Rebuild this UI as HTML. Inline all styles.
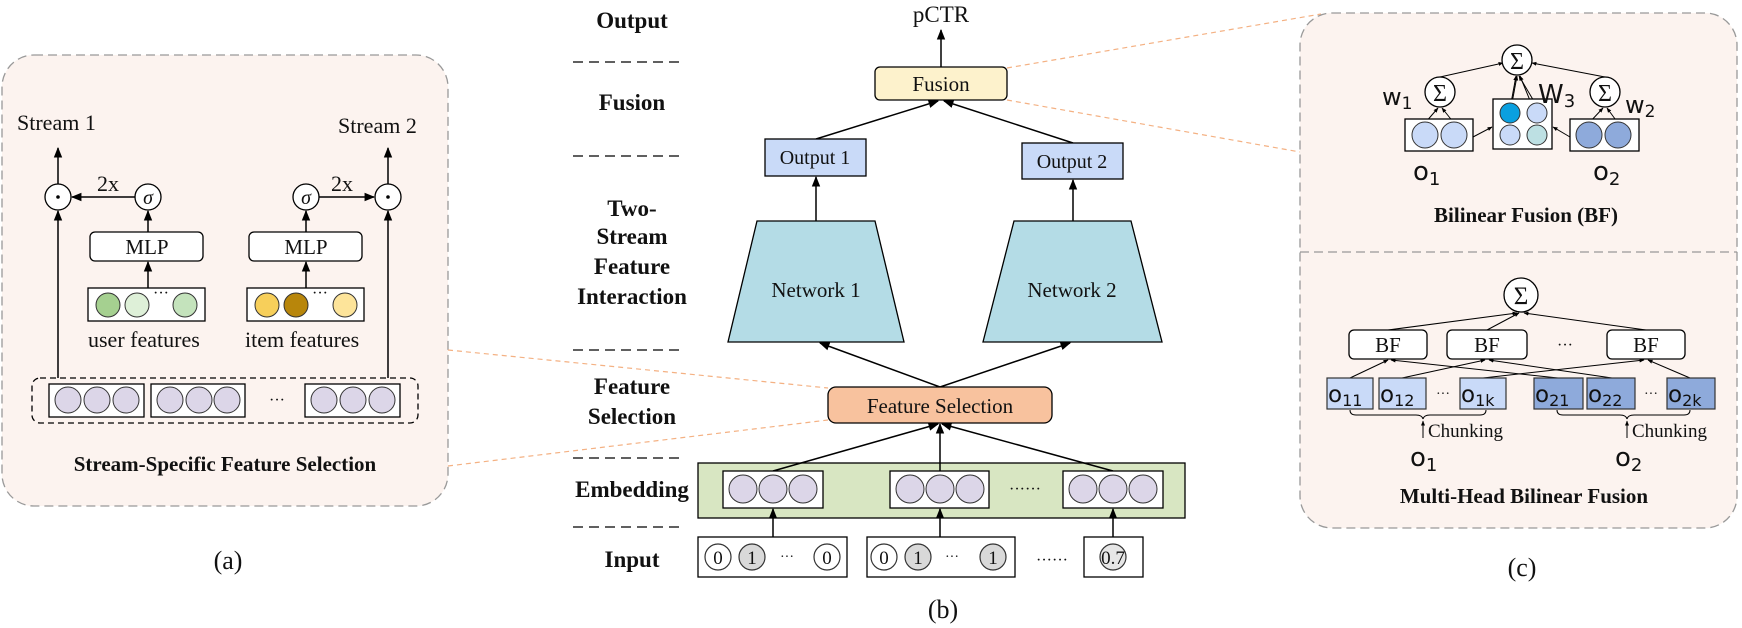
<!DOCTYPE html>
<html><head><meta charset="utf-8"><style>
html,body{margin:0;padding:0;background:#fff;}
svg{display:block;}
.t{font-family:"Liberation Serif",serif;fill:#111;}
.b{font-family:"Liberation Serif",serif;font-weight:bold;fill:#111;}
.s{font-family:"DejaVu Sans","Liberation Sans",sans-serif;fill:#111;}
</style></head><body>
<svg width="1742" height="628" viewBox="0 0 1742 628" xmlns="http://www.w3.org/2000/svg">
<defs>
<marker id="a" viewBox="0 0 10 10" refX="9" refY="5" markerWidth="7" markerHeight="7" orient="auto-start-reverse"><path d="M0,1 L10,5 L0,9 z" fill="#000"/></marker>
<marker id="as" viewBox="0 0 10 10" refX="9" refY="5" markerWidth="5" markerHeight="5" orient="auto"><path d="M0,1 L10,5 L0,9 z" fill="#000"/></marker>
</defs>

<!-- Panel (a) -->
<rect x="2" y="55" width="446" height="451" rx="32" fill="#fcf3ef" stroke="#999" stroke-width="1.3" stroke-dasharray="9,5"/>
<text class="t" x="17" y="130" font-size="22">Stream 1</text>
<text class="t" x="338" y="133" font-size="22">Stream 2</text>
<line x1="58" y1="378" x2="58" y2="211" stroke="#000" stroke-width="1.5" marker-end="url(#a)"/>
<line x1="58" y1="184" x2="58" y2="148" stroke="#000" stroke-width="1.5" marker-end="url(#a)"/>
<circle cx="58" cy="197" r="13" fill="#fff" stroke="#000" stroke-width="1.3"/>
<circle cx="58" cy="197" r="1.8" fill="#000"/>
<line x1="388" y1="378" x2="388" y2="211" stroke="#000" stroke-width="1.5" marker-end="url(#a)"/>
<line x1="388" y1="184" x2="388" y2="148" stroke="#000" stroke-width="1.5" marker-end="url(#a)"/>
<circle cx="388" cy="197" r="13" fill="#fff" stroke="#000" stroke-width="1.3"/>
<circle cx="388" cy="197" r="1.8" fill="#000"/>
<line x1="135" y1="197" x2="72" y2="197" stroke="#000" stroke-width="1.5" marker-end="url(#a)"/>
<line x1="319" y1="197" x2="374" y2="197" stroke="#000" stroke-width="1.5" marker-end="url(#a)"/>
<circle cx="148" cy="197" r="13" fill="#fff" stroke="#000" stroke-width="1.3"/>
<text class="t" x="148" y="204" font-size="20" font-style="italic" text-anchor="middle">σ</text>
<circle cx="306" cy="197" r="13" fill="#fff" stroke="#000" stroke-width="1.3"/>
<text class="t" x="306" y="204" font-size="20" font-style="italic" text-anchor="middle">σ</text>
<text class="t" x="97" y="191" font-size="22">2x</text>
<text class="t" x="331" y="191" font-size="22">2x</text>
<line x1="148" y1="232" x2="148" y2="211" stroke="#000" stroke-width="1.5" marker-end="url(#a)"/>
<line x1="306" y1="232" x2="306" y2="211" stroke="#000" stroke-width="1.5" marker-end="url(#a)"/>
<rect x="90" y="232" width="113" height="29" rx="5" fill="#fff" stroke="#000" stroke-width="1.3"/>
<text class="t" x="147" y="254" font-size="21" text-anchor="middle">MLP</text>
<rect x="249" y="232" width="113" height="29" rx="5" fill="#fff" stroke="#000" stroke-width="1.3"/>
<text class="t" x="306" y="254" font-size="21" text-anchor="middle">MLP</text>
<line x1="148" y1="288" x2="148" y2="262" stroke="#000" stroke-width="1.5" marker-end="url(#a)"/>
<line x1="306" y1="288" x2="306" y2="262" stroke="#000" stroke-width="1.5" marker-end="url(#a)"/>
<rect x="88" y="288" width="117" height="33" fill="#fff" stroke="#000" stroke-width="1.3"/>
<circle cx="108" cy="305" r="12" fill="#a5d090" stroke="#333"/>
<circle cx="137" cy="305" r="12" fill="#def0d8" stroke="#333"/>
<circle cx="185" cy="305" r="12" fill="#c4e3bc" stroke="#333"/>
<text class="t" x="161" y="298" font-size="16" text-anchor="middle">···</text>
<rect x="247" y="288" width="117" height="33" fill="#fff" stroke="#000" stroke-width="1.3"/>
<circle cx="267" cy="305" r="12" fill="#f7cf5a" stroke="#333"/>
<circle cx="296" cy="305" r="12" fill="#b8860b" stroke="#333"/>
<circle cx="345" cy="305" r="12" fill="#fde49a" stroke="#333"/>
<text class="t" x="320" y="298" font-size="16" text-anchor="middle">···</text>
<text class="t" x="88" y="347" font-size="22">user features</text>
<text class="t" x="245" y="347" font-size="22">item features</text>
<rect x="32" y="378" width="386" height="45" rx="8" fill="#fcf3ef" stroke="#000" stroke-width="1.3" stroke-dasharray="6,4"/>
<rect x="49" y="384" width="95" height="33" fill="#fff" stroke="#000" stroke-width="1.3"/>
<rect x="151" y="384" width="94" height="33" fill="#fff" stroke="#000" stroke-width="1.3"/>
<rect x="305" y="384" width="95" height="33" fill="#fff" stroke="#000" stroke-width="1.3"/>
<g fill="#dcd6e8" stroke="#333">
<circle cx="68" cy="400" r="13"/><circle cx="97" cy="400" r="13"/><circle cx="126" cy="400" r="13"/>
<circle cx="170" cy="400" r="13"/><circle cx="199" cy="400" r="13"/><circle cx="227" cy="400" r="13"/>
<circle cx="324" cy="400" r="13"/><circle cx="353" cy="400" r="13"/><circle cx="382" cy="400" r="13"/>
</g>
<text class="t" x="277" y="405" font-size="16" text-anchor="middle">···</text>
<text class="b" x="225" y="471" font-size="21" text-anchor="middle">Stream-Specific Feature Selection</text>
<text class="t" x="228" y="569" font-size="26" text-anchor="middle">(a)</text>

<!-- orange connectors -->
<g stroke="#f4b183" stroke-width="1.2" stroke-dasharray="5,4" fill="none">
<line x1="448" y1="350" x2="828" y2="388"/>
<line x1="448" y1="466" x2="828" y2="420"/>
<line x1="1007" y1="68" x2="1321" y2="14"/>
<line x1="1007" y1="100" x2="1300" y2="152"/>
</g>

<!-- Panel (b) labels -->
<g class="b" font-size="23" text-anchor="middle">
<text class="b" x="632" y="28">Output</text>
<text class="b" x="632" y="110">Fusion</text>
<text class="b" x="632" y="216">Two-</text>
<text class="b" x="632" y="244">Stream</text>
<text class="b" x="632" y="274">Feature</text>
<text class="b" x="632" y="304">Interaction</text>
<text class="b" x="632" y="394">Feature</text>
<text class="b" x="632" y="424">Selection</text>
<text class="b" x="632" y="497">Embedding</text>
<text class="b" x="632" y="567">Input</text>
</g>
<g stroke="#000" stroke-width="1.3" stroke-dasharray="10,6">
<line x1="573" y1="62" x2="684" y2="62"/>
<line x1="573" y1="156" x2="684" y2="156"/>
<line x1="573" y1="350" x2="684" y2="350"/>
<line x1="573" y1="458" x2="684" y2="458"/>
<line x1="573" y1="527" x2="684" y2="527"/>
</g>

<!-- Panel (b) diagram -->
<text class="t" x="941" y="22" font-size="23" text-anchor="middle">pCTR</text>
<line x1="941" y1="67" x2="941" y2="30" stroke="#000" stroke-width="1.5" marker-end="url(#a)"/>
<rect x="875" y="67" width="132" height="33" rx="5" fill="#fdf2cc" stroke="#000" stroke-width="1.3"/>
<text class="t" x="941" y="91" font-size="21" text-anchor="middle">Fusion</text>
<line x1="816" y1="139" x2="938" y2="101" stroke="#000" stroke-width="1.5" marker-end="url(#a)"/>
<line x1="1073" y1="143" x2="944" y2="101" stroke="#000" stroke-width="1.5" marker-end="url(#a)"/>
<rect x="765" y="139" width="101" height="37" fill="#c9daf8" stroke="#000" stroke-width="1.3"/>
<text class="t" x="815" y="164" font-size="20" text-anchor="middle">Output 1</text>
<rect x="1022" y="143" width="101" height="36" fill="#c9daf8" stroke="#000" stroke-width="1.3"/>
<text class="t" x="1072" y="168" font-size="20" text-anchor="middle">Output 2</text>
<line x1="816" y1="221" x2="816" y2="177" stroke="#000" stroke-width="1.5" marker-end="url(#a)"/>
<line x1="1073" y1="221" x2="1073" y2="180" stroke="#000" stroke-width="1.5" marker-end="url(#a)"/>
<polygon points="757,221 875,221 904,342 728,342" fill="#b4dce6" stroke="#000" stroke-width="1.3"/>
<polygon points="1014,221 1131,221 1162,342 983,342" fill="#b4dce6" stroke="#000" stroke-width="1.3"/>
<text class="t" x="816" y="297" font-size="21" text-anchor="middle">Network 1</text>
<text class="t" x="1072" y="297" font-size="21" text-anchor="middle">Network 2</text>
<line x1="940" y1="387" x2="820" y2="343" stroke="#000" stroke-width="1.5" marker-end="url(#a)"/>
<line x1="940" y1="387" x2="1070" y2="343" stroke="#000" stroke-width="1.5" marker-end="url(#a)"/>
<rect x="828" y="387" width="224" height="36" rx="8" fill="#f8c29e" stroke="#000" stroke-width="1.3"/>
<text class="t" x="940" y="413" font-size="21" text-anchor="middle">Feature Selection</text>
<rect x="698" y="463" width="487" height="55" fill="#d8e6c2" stroke="#000" stroke-width="1.3"/>
<line x1="773" y1="471" x2="938" y2="424" stroke="#000" stroke-width="1.5" marker-end="url(#a)"/>
<line x1="940" y1="471" x2="940" y2="424" stroke="#000" stroke-width="1.5" marker-end="url(#a)"/>
<line x1="1113" y1="471" x2="942" y2="424" stroke="#000" stroke-width="1.5" marker-end="url(#a)"/>
<rect x="723" y="471" width="100" height="37" fill="#fff" stroke="#000" stroke-width="1.3"/>
<rect x="890" y="471" width="99" height="37" fill="#fff" stroke="#000" stroke-width="1.3"/>
<rect x="1063" y="471" width="100" height="37" fill="#fff" stroke="#000" stroke-width="1.3"/>
<g fill="#dcd6e8" stroke="#333">
<circle cx="743" cy="489" r="14"/><circle cx="773" cy="489" r="14"/><circle cx="803" cy="489" r="14"/>
<circle cx="910" cy="489" r="14"/><circle cx="940" cy="489" r="14"/><circle cx="970" cy="489" r="14"/>
<circle cx="1083" cy="489" r="14"/><circle cx="1113" cy="489" r="14"/><circle cx="1143" cy="489" r="14"/>
</g>
<text class="t" x="1025" y="494" font-size="16" text-anchor="middle">······</text>
<line x1="773" y1="537" x2="773" y2="509" stroke="#000" stroke-width="1.5" marker-end="url(#a)"/>
<line x1="940" y1="537" x2="940" y2="509" stroke="#000" stroke-width="1.5" marker-end="url(#a)"/>
<line x1="1113" y1="537" x2="1113" y2="509" stroke="#000" stroke-width="1.5" marker-end="url(#a)"/>
<rect x="698" y="537" width="149" height="40" fill="#fff" stroke="#000" stroke-width="1.3"/>
<rect x="867" y="537" width="148" height="40" fill="#fff" stroke="#000" stroke-width="1.3"/>
<rect x="1084" y="537" width="59" height="40" fill="#fff" stroke="#000" stroke-width="1.3"/>
<g stroke="#333" stroke-width="1.2">
<circle cx="718" cy="557" r="13" fill="#fff"/><circle cx="752" cy="557" r="13" fill="#d9d9d9"/><circle cx="827" cy="557" r="13" fill="#fff"/>
<circle cx="884" cy="557" r="13" fill="#fff"/><circle cx="918" cy="557" r="13" fill="#d9d9d9"/><circle cx="993" cy="557" r="13" fill="#d9d9d9"/>
<circle cx="1113" cy="557" r="13" fill="#e6e6e6"/>
</g>
<g class="t" font-size="19" text-anchor="middle">
<text x="718" y="564">0</text><text x="752" y="564">1</text><text x="787" y="561" font-size="14">···</text><text x="827" y="564">0</text>
<text x="884" y="564">0</text><text x="918" y="564">1</text><text x="952" y="561" font-size="14">···</text><text x="993" y="564">1</text>
<text x="1113" y="564">0.7</text>
</g>
<text class="t" x="1052" y="565" font-size="16" text-anchor="middle">······</text>
<text class="t" x="943" y="618" font-size="26" text-anchor="middle">(b)</text>

<!-- Panel (c) -->
<rect x="1300" y="13" width="437" height="515" rx="32" fill="#fcf3ef" stroke="#999" stroke-width="1.3" stroke-dasharray="9,5"/>
<line x1="1300" y1="252" x2="1737" y2="252" stroke="#999" stroke-width="1.3" stroke-dasharray="9,5"/>
<!-- BF -->
<g stroke="#000" stroke-width="1" fill="none">
<line x1="1440" y1="77" x2="1503" y2="63" marker-end="url(#as)"/>
<line x1="1605" y1="77" x2="1532" y2="63" marker-end="url(#as)"/>
<line x1="1425" y1="123" x2="1438" y2="108" marker-end="url(#as)"/>
<line x1="1454" y1="123" x2="1442" y2="108" marker-end="url(#as)"/>
<line x1="1589" y1="123" x2="1603" y2="108" marker-end="url(#as)"/>
<line x1="1618" y1="123" x2="1607" y2="108" marker-end="url(#as)"/>
<line x1="1473" y1="137" x2="1492" y2="127" marker-end="url(#as)"/>
<line x1="1570" y1="137" x2="1553" y2="127" marker-end="url(#as)"/>
<line x1="1507" y1="125" x2="1516" y2="76" marker-end="url(#as)"/>
<line x1="1512" y1="103" x2="1517" y2="76" marker-end="url(#as)"/>
<line x1="1535" y1="103" x2="1519" y2="76" marker-end="url(#as)"/>
<line x1="1540" y1="125" x2="1520" y2="76" marker-end="url(#as)"/>
</g>
<circle cx="1517" cy="60" r="15" fill="#fff" stroke="#000" stroke-width="1.3"/>
<circle cx="1440" cy="92" r="15" fill="#fff" stroke="#000" stroke-width="1.3"/>
<circle cx="1605" cy="92" r="15" fill="#fff" stroke="#000" stroke-width="1.3"/>
<g class="t" font-size="24" text-anchor="middle">
<text x="1517" y="69">Σ</text><text x="1440" y="101">Σ</text><text x="1605" y="101">Σ</text>
</g>
<rect x="1405" y="119" width="68" height="32" fill="#fff" stroke="#000" stroke-width="1.3"/>
<circle cx="1425" cy="135" r="13" fill="#c9daf8" stroke="#333"/><circle cx="1454" cy="135" r="13" fill="#c9daf8" stroke="#333"/>
<rect x="1493" y="99" width="59" height="50" fill="#fff" stroke="#000" stroke-width="1.3"/>
<circle cx="1510" cy="113" r="10" fill="#0aa0e0" stroke="#333"/><circle cx="1537" cy="113" r="10" fill="#c9daf8" stroke="#333"/>
<circle cx="1510" cy="135" r="10" fill="#c9daf8" stroke="#333"/><circle cx="1537" cy="135" r="10" fill="#bde0e3" stroke="#333"/>
<rect x="1570" y="119" width="69" height="32" fill="#fff" stroke="#000" stroke-width="1.3"/>
<circle cx="1589" cy="135" r="13" fill="#8eaadb" stroke="#333"/><circle cx="1618" cy="135" r="13" fill="#8eaadb" stroke="#333"/>
<text class="s" x="1382" y="105" font-size="24">w<tspan font-size="17" dy="4">1</tspan></text>
<text class="s" x="1538" y="103" font-size="26">W<tspan font-size="18" dy="4">3</tspan></text>
<text class="s" x="1625" y="113" font-size="24">w<tspan font-size="17" dy="4">2</tspan></text>
<text class="s" x="1413" y="180" font-size="26">o<tspan font-size="18" dy="5">1</tspan></text>
<text class="s" x="1593" y="180" font-size="26">o<tspan font-size="18" dy="5">2</tspan></text>
<text class="b" x="1526" y="222" font-size="21" text-anchor="middle">Bilinear Fusion (BF)</text>
<!-- MHBF -->
<g stroke="#000" stroke-width="1" fill="none">
<line x1="1388" y1="330" x2="1517" y2="313" marker-end="url(#as)"/>
<line x1="1487" y1="330" x2="1519" y2="313" marker-end="url(#as)"/>
<line x1="1646" y1="330" x2="1524" y2="313" marker-end="url(#as)"/>
<line x1="1350" y1="378" x2="1388" y2="360" marker-end="url(#as)"/>
<line x1="1558" y1="378" x2="1391" y2="360" marker-end="url(#as)"/>
<line x1="1402" y1="378" x2="1485" y2="360" marker-end="url(#as)"/>
<line x1="1612" y1="378" x2="1489" y2="360" marker-end="url(#as)"/>
<line x1="1483" y1="378" x2="1644" y2="360" marker-end="url(#as)"/>
<line x1="1690" y1="378" x2="1648" y2="360" marker-end="url(#as)"/>
<path d="M1350,410 Q1350,415 1356,415 L1416,415 Q1422,415 1423,419 Q1424,415 1430,415 L1480,415 Q1486,415 1486,410"/>
<path d="M1557,410 Q1557,415 1563,415 L1620,415 Q1626,415 1627,419 Q1628,415 1634,415 L1684,415 Q1690,415 1690,410"/>
<line x1="1423" y1="438" x2="1423" y2="421" marker-end="url(#as)"/>
<line x1="1627" y1="438" x2="1627" y2="421" marker-end="url(#as)"/>
</g>
<circle cx="1521" cy="295" r="17" fill="#fff" stroke="#000" stroke-width="1.3"/>
<text class="t" x="1521" y="304" font-size="25" text-anchor="middle">Σ</text>
<rect x="1349" y="330" width="78" height="29" rx="5" fill="#fff" stroke="#000" stroke-width="1.3"/>
<rect x="1447" y="330" width="80" height="29" rx="5" fill="#fff" stroke="#000" stroke-width="1.3"/>
<rect x="1607" y="330" width="78" height="29" rx="5" fill="#fff" stroke="#000" stroke-width="1.3"/>
<g class="t" font-size="21" text-anchor="middle"><text x="1388" y="352">BF</text><text x="1487" y="352">BF</text><text x="1646" y="352">BF</text></g>
<text class="t" x="1565" y="350" font-size="16" text-anchor="middle">···</text>
<g stroke="#333" stroke-width="1.2">
<rect x="1327" y="378" width="46" height="31" fill="#c9daf8"/>
<rect x="1379" y="378" width="47" height="31" fill="#c9daf8"/>
<rect x="1460" y="378" width="46" height="31" fill="#c9daf8"/>
<rect x="1534" y="378" width="49" height="31" fill="#8eaadb"/>
<rect x="1587" y="378" width="48" height="31" fill="#8eaadb"/>
<rect x="1667" y="378" width="48" height="31" fill="#8eaadb"/>
</g>
<g class="s" font-size="23">
<text x="1328" y="402">o<tspan font-size="16" dy="4">11</tspan></text>
<text x="1380" y="402">o<tspan font-size="16" dy="4">12</tspan></text>
<text x="1461" y="402">o<tspan font-size="16" dy="4">1k</tspan></text>
<text x="1535" y="402">o<tspan font-size="16" dy="4">21</tspan></text>
<text x="1588" y="402">o<tspan font-size="16" dy="4">22</tspan></text>
<text x="1668" y="402">o<tspan font-size="16" dy="4">2k</tspan></text>
</g>
<text class="t" x="1443" y="398" font-size="14" text-anchor="middle">···</text>
<text class="t" x="1651" y="398" font-size="14" text-anchor="middle">···</text>
<text class="t" x="1428" y="437" font-size="19">Chunking</text>
<text class="t" x="1632" y="437" font-size="19">Chunking</text>
<text class="s" x="1410" y="466" font-size="26">o<tspan font-size="18" dy="5">1</tspan></text>
<text class="s" x="1615" y="466" font-size="26">o<tspan font-size="18" dy="5">2</tspan></text>
<text class="b" x="1524" y="503" font-size="21" text-anchor="middle">Multi-Head Bilinear Fusion</text>
<text class="t" x="1522" y="576" font-size="26" text-anchor="middle">(c)</text>
</svg>
</body></html>
